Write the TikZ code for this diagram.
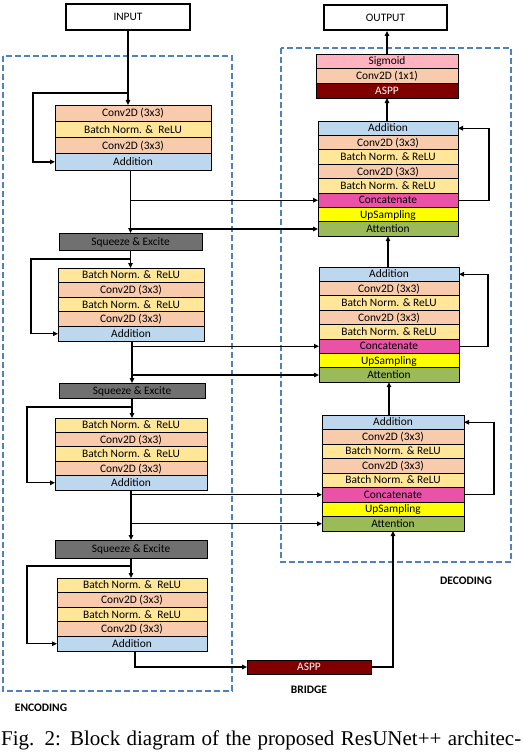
\documentclass[tikz,border=0pt]{standalone}
\usepackage{fontspec}
\setmainfont{Carlito}
\newfontfamily\capfont{Liberation Serif}
\usetikzlibrary{positioning,arrows.meta}

\definecolor{convc}{RGB}{248,203,173}
\definecolor{bnc}{RGB}{255,230,153}
\definecolor{addc}{RGB}{189,215,238}
\definecolor{catc}{RGB}{234,82,168}
\definecolor{upc}{RGB}{255,255,0}
\definecolor{attc}{RGB}{155,187,89}
\definecolor{sec}{RGB}{112,112,112}
\definecolor{asppc}{RGB}{128,0,0}
\definecolor{sigc}{RGB}{255,179,193}
\definecolor{framec}{RGB}{79,129,189}

\tikzset{
  row/.style={draw, line width=0.7pt, inner sep=0pt, outer sep=0pt,
    minimum height=14.5pt, text height=7.3pt, text depth=0pt,
    font=\fontsize{11.4}{12}\selectfont},
  conv/.style={row, fill=convc},
  bnr/.style={row, fill=bnc},
  addn/.style={row, fill=addc},
  concat/.style={row, fill=catc},
  upsamp/.style={row, fill=upc},
  attn/.style={row, fill=attc},
  sqex/.style={row, fill=sec},
  asppbox/.style={row, fill=asppc, text=white},
  sigm/.style={row, fill=sigc},
  iobox/.style={draw, line width=2pt, inner sep=0pt, text height=7.3pt, text depth=0pt,
    font=\fontsize{11.4}{12}\selectfont},
  link/.style={line width=1.3pt, -{Triangle[length=5pt,width=4.5pt]}},
  stage/.style={draw=framec, line width=1.8pt, dash pattern=on 6pt off 3pt},
  tag/.style={inner sep=0pt, font=\fontsize{11.5}{12}\selectfont\bfseries}
}

\begin{document}
\begin{tikzpicture}[x=1pt,y=-1pt]
\useasboundingbox (0,0) rectangle (522,754);

% stage frames
\draw[stage] (3,56) rectangle (232,691);
\draw[stage] (281,48) rectangle (511,562);

\node[iobox, minimum width=124pt, minimum height=26pt] (in) at (128,17) {INPUT};
\node[iobox, minimum width=123pt, minimum height=25pt] (out) at (385.5,17.5) {OUTPUT};

% encoding
\begin{scope}[row/.append style={minimum width=156pt, minimum height=16.25pt}]
  \node[conv, anchor=north] (e1a) at (133,105) {Conv2D (3x3)};
  \node[bnr, below=0pt of e1a] (e1b) {Batch Norm. \&~ ReLU};
  \node[conv, below=0pt of e1b] (e1c) {Conv2D (3x3)};
  \node[addn, below=0pt of e1c] (e1add) {Addition};
\end{scope}
\node[sqex, minimum width=143pt, minimum height=17pt, anchor=north] (se1) at (130.5,233) {Squeeze \& Excite};
\begin{scope}[row/.append style={minimum width=146pt, minimum height=14.6pt}]
  \node[bnr, anchor=north] (e2a) at (131,268) {Batch Norm. \&~ ReLU};
  \node[conv, below=0pt of e2a] (e2b) {Conv2D (3x3)};
  \node[bnr, below=0pt of e2b] (e2c) {Batch Norm. \&~ ReLU};
  \node[conv, below=0pt of e2c] (e2d) {Conv2D (3x3)};
  \node[addn, below=0pt of e2d] (e2add) {Addition};
\end{scope}
\node[sqex, minimum width=146pt, minimum height=15pt, anchor=north] (se2) at (132,383) {Squeeze \& Excite};
\begin{scope}[row/.append style={minimum width=152pt, minimum height=14.4pt}]
  \node[bnr, anchor=north] (e3a) at (131,418) {Batch Norm. \&~ ReLU};
  \node[conv, below=0pt of e3a] (e3b) {Conv2D (3x3)};
  \node[bnr, below=0pt of e3b] (e3c) {Batch Norm. \&~ ReLU};
  \node[conv, below=0pt of e3c] (e3d) {Conv2D (3x3)};
  \node[addn, below=0pt of e3d] (e3add) {Addition};
\end{scope}
\node[sqex, minimum width=152pt, minimum height=18pt, anchor=north] (se3) at (131,540) {Squeeze \& Excite};
\begin{scope}[row/.append style={minimum width=150pt, minimum height=14.6pt}]
  \node[bnr, anchor=north] (e4a) at (132,578) {Batch Norm. \&~ ReLU};
  \node[conv, below=0pt of e4a] (e4b) {Conv2D (3x3)};
  \node[bnr, below=0pt of e4b] (e4c) {Batch Norm. \&~ ReLU};
  \node[conv, below=0pt of e4c] (e4d) {Conv2D (3x3)};
  \node[addn, below=0pt of e4d] (e4add) {Addition};
\end{scope}

% bridge
\node[asppbox, minimum width=124pt, minimum height=14pt, anchor=north] (bridge) at (309,660) {ASPP};

% decoding
\begin{scope}[row/.append style={minimum width=142pt, minimum height=14.5pt}]
  \node[addn, anchor=north] (d3add) at (393,415) {Addition};
  \node[conv, below=0pt of d3add] (d3a) {Conv2D (3x3)};
  \node[bnr, below=0pt of d3a] (d3b) {Batch Norm. \& ReLU};
  \node[conv, below=0pt of d3b] (d3c) {Conv2D (3x3)};
  \node[bnr, below=0pt of d3c] (d3d) {Batch Norm. \& ReLU};
  \node[concat, below=0pt of d3d] (d3cat) {Concatenate};
  \node[upsamp, below=0pt of d3cat] (d3up) {UpSampling};
  \node[attn, below=0pt of d3up] (d3att) {Attention};
\end{scope}
\begin{scope}[row/.append style={minimum width=140pt, minimum height=14.4pt}]
  \node[addn, anchor=north] (d2add) at (389,267) {Addition};
  \node[conv, below=0pt of d2add] (d2a) {Conv2D (3x3)};
  \node[bnr, below=0pt of d2a] (d2b) {Batch Norm. \& ReLU};
  \node[conv, below=0pt of d2b] (d2c) {Conv2D (3x3)};
  \node[bnr, below=0pt of d2c] (d2d) {Batch Norm. \& ReLU};
  \node[concat, below=0pt of d2d] (d2cat) {Concatenate};
  \node[upsamp, below=0pt of d2cat] (d2up) {UpSampling};
  \node[attn, below=0pt of d2up] (d2att) {Attention};
\end{scope}
\begin{scope}[row/.append style={minimum width=140pt, minimum height=14.4pt}]
  \node[addn, anchor=north] (d1add) at (388,121) {Addition};
  \node[conv, below=0pt of d1add] (d1a) {Conv2D (3x3)};
  \node[bnr, below=0pt of d1a] (d1b) {Batch Norm. \& ReLU};
  \node[conv, below=0pt of d1b] (d1c) {Conv2D (3x3)};
  \node[bnr, below=0pt of d1c] (d1d) {Batch Norm. \& ReLU};
  \node[concat, below=0pt of d1d] (d1cat) {Concatenate};
  \node[upsamp, below=0pt of d1cat] (d1up) {UpSampling};
  \node[attn, below=0pt of d1up] (d1att) {Attention};
\end{scope}
\begin{scope}[row/.append style={minimum width=142pt, minimum height=14.67pt}]
  \node[sigm, anchor=north] (hsig) at (387,54) {Sigmoid};
  \node[conv, below=0pt of hsig] (hconv) {Conv2D (1x1)};
  \node[asppbox, below=0pt of hconv] (hasp) {ASPP};
\end{scope}

% encoder path and skips
\coordinate (k1) at (in.south |- 0,93);
\coordinate (k2) at (se1.south |- 0,259);
\coordinate (k3) at (se2.south |- 0,407);
\coordinate (k4) at (se3.south |- 0,566);
\draw[link] (in.south) -- (in.south |- e1a.north);
\draw[link] (k1) -- ++(-95,0) |- (e1add.west);
\draw[link] (e1add.south -| se1.north) -- (se1.north);
\draw[link] (se1.south) -- (se1.south |- e2a.north);
\draw[link] (k2) -- ++(-99.5,0) |- (e2add.west);
\draw[link] (e2add.south -| se2.north) -- (se2.north);
\draw[link] (se2.south) -- (se2.south |- e3a.north);
\draw[link] (k3) -- ++(-105,0) |- (e3add.west);
\draw[link] (e3add.south -| se3.north) -- (se3.north);
\draw[link] (se3.south) -- (se3.south |- e4a.north);
\draw[link] (k4) -- ++(-104,0) |- (e4add.west);
\draw[link] ([xshift=3pt]e4add.south) |- (bridge.west);
\draw[link] (bridge.east) -| (d3att.south);

% encoder to decoder
\draw[link] (d1cat.west -| se1.north) -- (d1cat.west);
\draw[link] (d1att.west -| se1.north) -- (d1att.west);
\draw[link] (d2cat.west -| se2.north) -- (d2cat.west);
\draw[link] (d2att.west -| se2.north) -- (d2att.west);
\draw[link] (d3cat.west -| se3.north) -- (d3cat.west);
\draw[link] (d3att.west -| se3.north) -- (d3att.west);

% decoder path and skips
\draw[link] (d3cat.east) -- ++(30,0) |- (d3add.east);
\draw[link] (d2cat.east) -- ++(29,0) |- (d2add.east);
\draw[link] (d1cat.east) -- ++(31,0) |- (d1add.east);
\draw[link] (d3add.north -| d2att.south) -- (d2att.south);
\draw[link] (d2add.north -| d1att.south) -- (d1att.south);
\draw[link] (d1add.north -| hasp.south) -- (hasp.south);
\draw[link] (hsig.north) -- (hsig.north |- out.south);

% stage labels
\node[tag] (enc) at (41,708) {ENCODING};
\node[tag] (brg) at (309,690) {BRIDGE};
\node[tag] (dec) at (466,581) {DECODING};

\node[anchor=base west, inner sep=0pt] (cap) at (1,745)
  {\capfont\fontsize{21}{22}\selectfont\makebox[520pt][s]{Fig. 2: Block diagram of the proposed ResUNet++ architec-}};
\end{tikzpicture}
\end{document}
